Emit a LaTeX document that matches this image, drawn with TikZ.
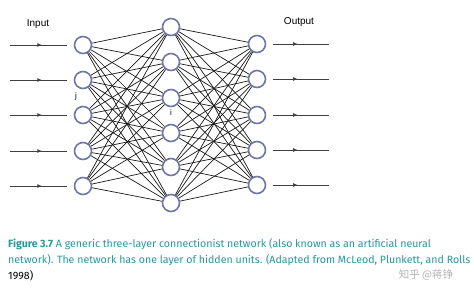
\documentclass[tikz,border=0pt]{standalone}
\usepackage{fontspec}
\setmainfont{Liberation Sans}
\newfontfamily\capfont{Fira Sans}
\newfontfamily\cjkfont{Noto Sans CJK SC}
\usetikzlibrary{arrows.meta,decorations.markings}
\definecolor{unitblue}{HTML}{6F77A8}
\definecolor{capteal}{HTML}{23999A}

\begin{document}
\begin{tikzpicture}[x=1pt,y=-1pt,
  unit/.style={circle,draw=unitblue,line width=1.6pt,fill=white,minimum size=17pt,inner sep=0pt},
  link/.style={line width=0.7pt,black!90},
  flow/.style={line width=0.9pt,black!75,postaction={decorate},
    decoration={markings,mark=at position 0.5 with {\arrow{Latex[length=4.5pt,width=4pt]}}}},
  capline/.style={anchor=base west,inner sep=0pt,font=\capfont\fontsize{10.6}{12}\selectfont,text=capteal}]
\useasboundingbox (0,0) rectangle (474,293);

% input units
\foreach \k/\y in {1/45,2/80,3/115,4/151,5/186} {
  \node[unit] (in\k) at (83,\y) {};
  \coordinate (src\k) at (10,\y);
}
% hidden units
\foreach \k/\y in {1/27,2/62,3/98,4/133,5/167,6/203} {
  \node[unit] (hid\k) at (171,\y) {};
}
% output units
\foreach \k/\y in {1/44,2/79,3/115,4/150,5/185} {
  \node[unit] (out\k) at (257,\y) {};
  \coordinate (dst\k) at (329,\y);
}

% weights
\foreach \a in {1,...,5} {
  \foreach \b in {1,...,6} {
    \draw[link] (in\a) -- (hid\b);
    \draw[link] (hid\b) -- (out\a);
  }
}

% external lines
\foreach \k in {1,...,5} {
  \draw[flow,shorten >=7pt] (src\k) -- (in\k);
  \draw[flow,shorten <=7pt] (out\k) -- (dst\k);
}

\node[font=\fontsize{10}{12}\selectfont] (inlabel) at (38,24) {Input};
\node[font=\fontsize{10}{12}\selectfont] (outlabel) at (299,22) {Output};
\node[font=\fontsize{8}{9}\selectfont] (jlabel) at (76,96) {j};
\node[font=\fontsize{8}{9}\selectfont] (ilabel) at (171,113) {i};

% caption
\node[capline] (cap1) at (8,247) {\textbf{Figure 3.7}\ A generic three-layer connectionist network (also known as an artificial neural};
\node[capline] (cap2) at (8,263) {network). The network has one layer of hidden units. (Adapted from McLeod, Plunkett, and Rolls};
\node[capline,text=black] (cap3) at (8,279) {1998)};
\node[font=\cjkfont\fontsize{10.5}{12}\selectfont,text=black!30] (mark) at (426,275) {知乎 @蒋铮};
\end{tikzpicture}
\end{document}
